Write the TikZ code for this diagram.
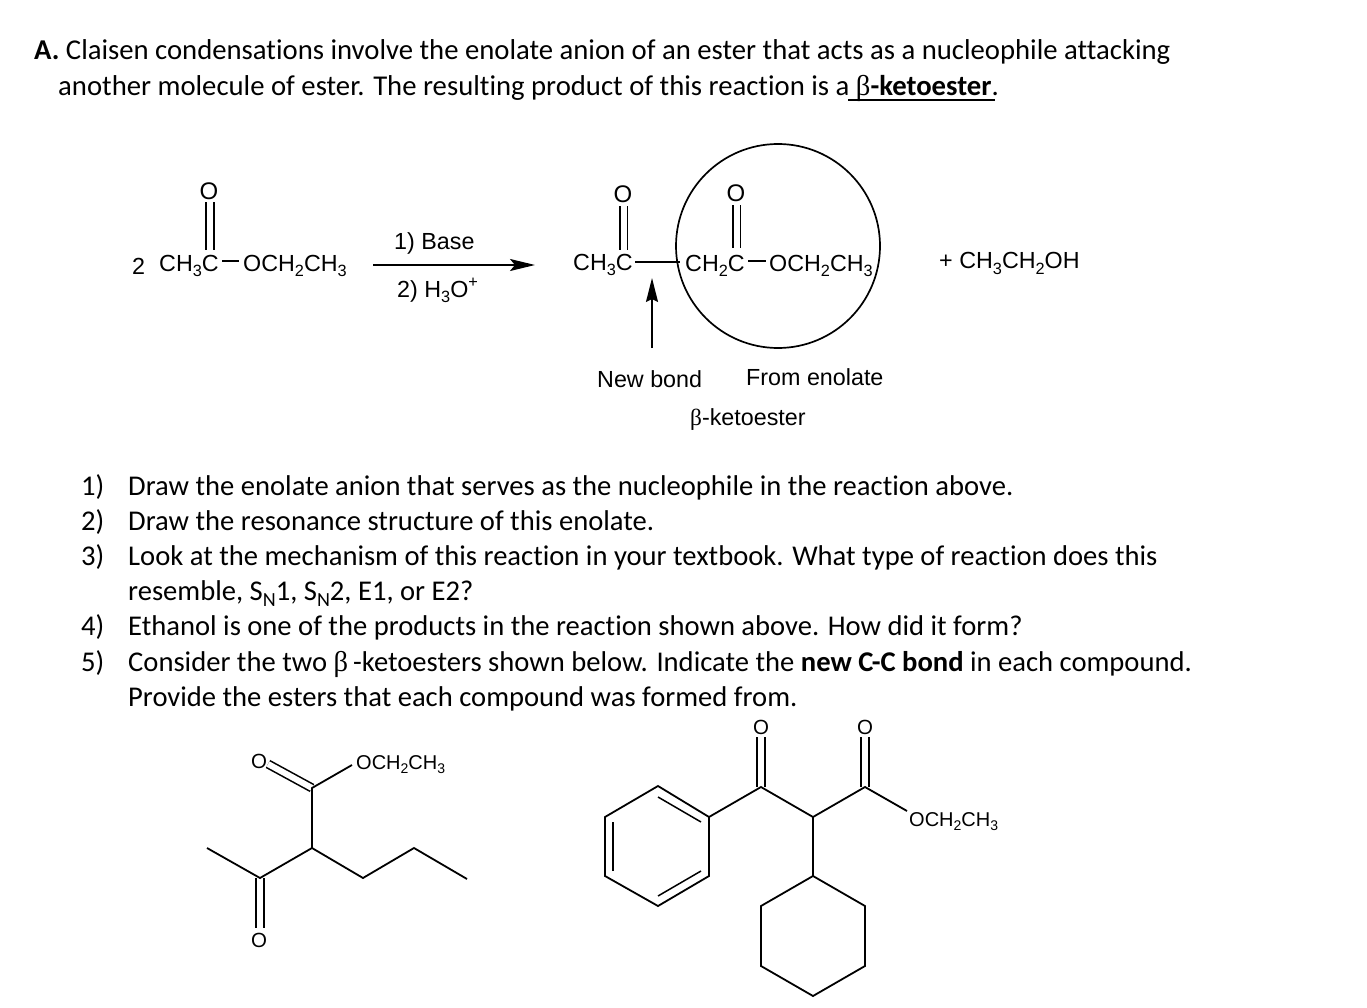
\documentclass[tikz,border=0pt]{standalone}
\usepackage{fontspec}
\setmainfont{Carlito}[Ligatures=NoCommon]
\newfontfamily\chemfont{Liberation Sans}
\newfontfamily\betafont{Liberation Serif}
\usetikzlibrary{arrows.meta}
\newcommand{\sbs}[1]{\raisebox{-.22em}{\scalebox{.7}{#1}}}
\newcommand{\sps}[1]{\raisebox{.42em}{\scalebox{.7}{#1}}}
\begin{document}
\begin{tikzpicture}[x=1pt,y=-1pt,
  body/.style={anchor=base west,inner sep=0pt,font=\fontsize{28.6}{31}\selectfont},
  head/.style={anchor=base west,inner sep=0pt,font=\fontsize{28.7}{31}\selectfont},
  chem/.style={anchor=base west,inner sep=0pt,font=\chemfont\fontsize{23.3}{26}\selectfont},
  chemlabel/.style={anchor=center,inner sep=0pt,font=\chemfont\fontsize{24}{26}\selectfont},
  small/.style={anchor=base west,inner sep=0pt,font=\chemfont\fontsize{20}{23}\selectfont},
  smalllabel/.style={anchor=center,inner sep=0pt,font=\chemfont\fontsize{20.5}{23}\selectfont},
  bond/.style={line width=1.8pt,line cap=butt,line join=miter},
  dbond/.style={line width=1.6pt,double,double distance=6pt},
  rule/.style={line width=1.5pt},
  rxn/.style={line width=1.8pt,-{Stealth[length=25pt,width=12pt,inset=5pt]}},
  newarrow/.style={line width=1.8pt,-{Stealth[length=24pt,width=12pt,inset=3pt]}}
]
\path[use as bounding box] (0,0) rectangle (1367,1008);
% Heading
\node[head] (t1) at (34,60) {\textbf{A.} Claisen condensations involve the enolate anion of an ester that acts as a nucleophile attacking};
\node[head] (t2) at (58,96) {another molecule of ester. The resulting product of this reaction is a\ {\betafont β}\textbf{-ketoester}.};
\coordinate (ul1) at (848,100);
\coordinate (ul2) at (995,100);
\draw[rule] (ul1) -- (ul2);
% Questions
\node[body] (n1) at (81,495) {1)};
\node[body] (q1) at (128,495) {Draw the enolate anion that serves as the nucleophile in the reaction above.};
\node[body] (n2) at (81,530) {2)};
\node[body] (q2) at (128,530) {Draw the resonance structure of this enolate.};
\node[body] (n3) at (81,565) {3)};
\node[body] (q3) at (128,565) {Look at the mechanism of this reaction in your textbook. What type of reaction does this};
\node[body] (q3b) at (128,600) {resemble, S\sbs{N}1, S\sbs{N}2, E1, or E2?};
\node[body] (n4) at (81,635) {4)};
\node[body] (q4) at (128,635) {Ethanol is one of the products in the reaction shown above. How did it form?};
\node[body] (n5) at (81,671) {5)};
\node[body] (q5) at (128,671) {Consider the two {\betafont β}\kern5pt-ketoesters shown below. Indicate the \textbf{new C-C bond} in each compound.};
\node[body] (q5b) at (128,706) {Provide the esters that each compound was formed from.};
% Reactant
\node[chem] (two) at (132,274) {2};
\node[chem] (r1) at (159,271) {CH\sbs{3}C};
\node[chem] (r2) at (243,271) {OCH\sbs{2}CH\sbs{3}};
\node[chemlabel] (ro) at (209,191) {O};
\coordinate (rc) at (210,250);
\coordinate (rot) at (210,202);
\coordinate (rs1) at (222,261);
\coordinate (rs2) at (239,261);
\draw[dbond] (rc) -- (rot);
\draw[bond] (rs1) -- (rs2);
% Arrow
\node[chem] (base) at (394,250) {1) Base};
\node[chem] (h3o) at (397,297) {2) H\sbs{3}O\sps{+}};
\coordinate (ra1) at (373,265);
\coordinate (ra2) at (535,265);
\draw[rxn] (ra1) -- (ra2);
% Product
\node[chem] (p1) at (573,270) {CH\sbs{3}C};
\node[chem] (p2) at (685,271) {CH\sbs{2}C};
\node[chem] (p3) at (769,271) {OCH\sbs{2}CH\sbs{3}};
\node[chemlabel] (po1) at (623,194) {O};
\node[chemlabel] (po2) at (736,193) {O};
\coordinate (pc1) at (623.5,250);
\coordinate (pt1) at (623.5,206);
\coordinate (pc2) at (736.5,248);
\coordinate (pt2) at (736.5,205);
\draw[dbond] (pc1) -- (pt1);
\draw[dbond] (pc2) -- (pt2);
\coordinate (pb1) at (635,262);
\coordinate (pb2) at (680,262);
\coordinate (pb3) at (748,261);
\coordinate (pb4) at (766,261);
\draw[bond] (pb1) -- (pb2);
\draw[bond] (pb3) -- (pb4);
\node[circle,draw,line width=1.7pt,minimum size=204pt,inner sep=0pt] (ring) at (778,246) {};
\node[chem] (etoh) at (939,269) {+ CH\sbs{3}CH\sbs{2}OH};
\coordinate (na1) at (652,348);
\coordinate (na2) at (652,278);
\draw[newarrow] (na1) -- (na2);
\node[chem] (newb) at (597,387) {New bond};
\node[chem] (from) at (746,385) {From enolate};
\node[chem] (keto) at (690,425) {{\betafont β}-ketoester};
% Lower molecule 1
\node[smalllabel] (ao) at (259,761) {O};
\node[smalllabel] (ao2) at (259,940) {O};
\node[small] (aoet) at (356,769) {OCH\sbs{2}CH\sbs{3}};
\coordinate (a1) at (312,788);
\coordinate (a1o) at (268,764);
\coordinate (a1e) at (352,765);
\coordinate (a2) at (312,848);
\coordinate (a3) at (363,878);
\coordinate (a4) at (414,848);
\coordinate (a5) at (467,879);
\coordinate (a6) at (260,878);
\coordinate (a7) at (207,848);
\coordinate (a6o) at (260,928);
\draw[dbond] (a1) -- (a1o);
\draw[dbond] (a6) -- (a6o);
\draw[bond] (a1e) -- (a1) -- (a2) -- (a3) -- (a4) -- (a5);
\draw[bond] (a2) -- (a6) -- (a7);
% Lower molecule 2
\node[smalllabel] (bo1) at (761,727) {O};
\node[smalllabel] (bo2) at (865,727) {O};
\node[small] (boet) at (909,826) {OCH\sbs{2}CH\sbs{3}};
\coordinate (bk) at (761,787);
\coordinate (bkt) at (761,737);
\coordinate (be) at (865,787);
\coordinate (bet) at (865,737);
\coordinate (bc) at (813,817);
\coordinate (beo) at (907,811);
\draw[dbond] (bk) -- (bkt);
\draw[dbond] (be) -- (bet);
\coordinate (r1a) at (709,817);
\coordinate (r2a) at (709,876);
\coordinate (r3a) at (658,906);
\coordinate (r4a) at (605,876);
\coordinate (r5a) at (605,817);
\coordinate (r6a) at (658,786);
\draw[bond] (r1a) -- (r2a) -- (r3a) -- (r4a) -- (r5a) -- (r6a) -- cycle;
\coordinate (i1a) at (701,822);
\coordinate (i1b) at (658,797);
\coordinate (i2a) at (701,871);
\coordinate (i2b) at (658,896);
\coordinate (i3a) at (613,871);
\coordinate (i3b) at (613,822);
\draw[line width=1.5pt] (i1a) -- (i1b);
\draw[line width=1.5pt] (i2a) -- (i2b);
\draw[line width=1.5pt] (i3a) -- (i3b);
\draw[bond] (r1a) -- (bk) -- (bc) -- (be) -- (beo);
\coordinate (c1) at (813,876);
\coordinate (c2) at (865,906);
\coordinate (c3) at (865,966);
\coordinate (c4) at (813,996);
\coordinate (c5) at (761,966);
\coordinate (c6) at (761,906);
\draw[bond] (bc) -- (c1);
\draw[bond] (c1) -- (c2) -- (c3) -- (c4) -- (c5) -- (c6) -- cycle;
\end{tikzpicture}
\end{document}
